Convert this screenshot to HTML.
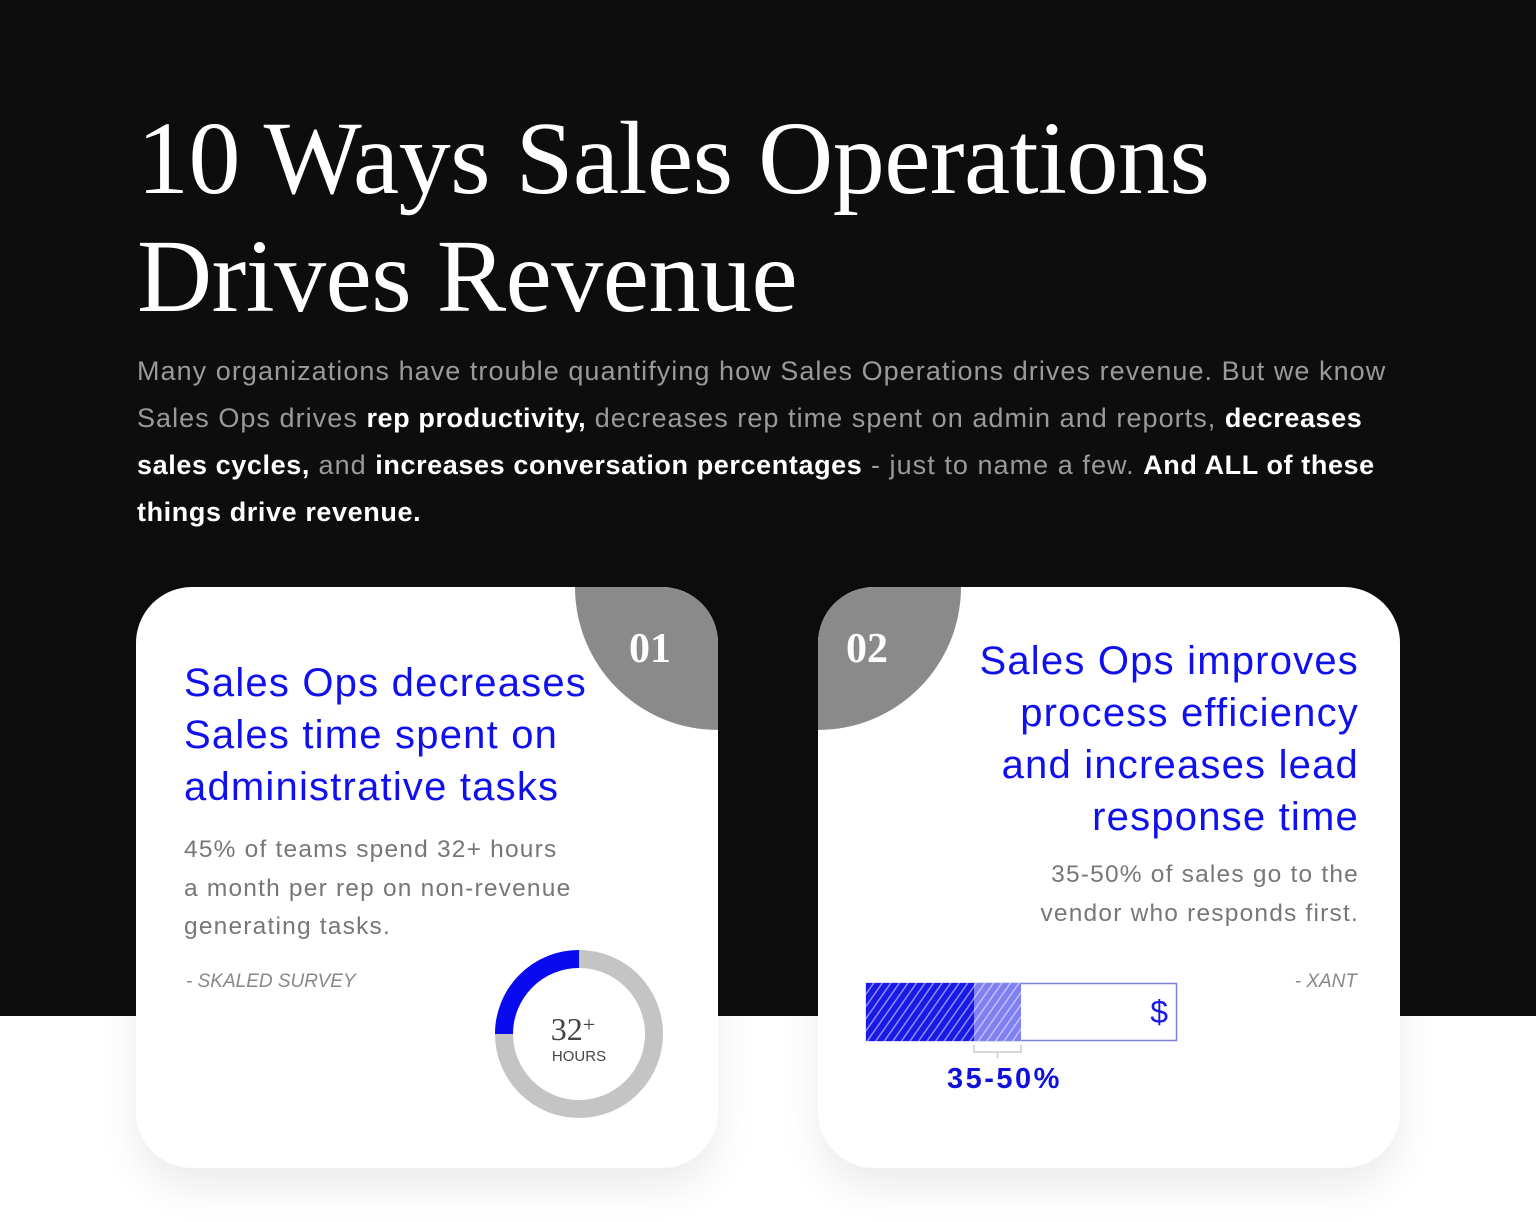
<!DOCTYPE html>
<html><head><meta charset="utf-8"><style>
body{margin:0;width:1536px;height:1222px;background:#fff;position:relative;overflow:hidden;font-family:"Liberation Sans",sans-serif}
.dark{position:absolute;left:0;top:0;width:1536px;height:1016px;background:#0d0d0d}
h1{position:absolute;left:137px;top:100px;margin:0;font-family:"Liberation Serif",serif;font-weight:normal;color:#fff;font-size:104px;line-height:118px;letter-spacing:-0.5px;white-space:nowrap}
.p{position:absolute;left:137px;top:348px;width:1350px;color:#9a9a9a;font-size:27px;line-height:47px;margin:0;letter-spacing:1.05px;white-space:nowrap}
.p b{color:#fff;letter-spacing:0.6px}
.card{position:absolute;top:587px;width:582px;height:581px;background:#fff;border-radius:56px;overflow:hidden;box-shadow:0 20px 40px rgba(0,0,0,.08)}
.q{position:absolute;width:286px;height:286px;border-radius:50%;background:#8a8a8a}
.num{position:absolute;font-family:"Liberation Serif",serif;font-weight:bold;color:#fff;font-size:42px}
.hd{position:absolute;color:#1010ee;font-size:40px;line-height:52px;letter-spacing:1.2px;white-space:nowrap}
.tx{position:absolute;color:#777;font-size:24.5px;line-height:38.5px;letter-spacing:1.2px;white-space:nowrap}
.src{position:absolute;color:#888;font-size:19px;font-style:italic}
</style></head><body>
<div class="dark"></div>
<h1>10 Ways Sales Operations<br>Drives Revenue</h1>
<p class="p">Many organizations have trouble quantifying how Sales Operations drives revenue. But we know<br>Sales Ops drives <b>rep productivity,</b> decreases rep time spent on admin and reports, <b>decreases</b><br><b>sales cycles,</b> and <b>increases conversation percentages</b> - just to name a few. <b>And ALL of these</b><br><b>things drive revenue.</b></p>

<div class="card" style="left:136px">
 <div class="q" style="left:439px;top:-143px"></div>
 <div class="num" style="left:493px;top:38px">01</div>
 <div class="hd" style="left:48px;top:70px">Sales Ops decreases<br>Sales time spent on<br>administrative tasks</div>
 <div class="tx" style="left:48px;top:244px">45% of teams spend 32+ hours<br>a month per rep on non-revenue<br>generating tasks.</div>
 <div class="src" style="left:50px;top:384px">- SKALED SURVEY</div>
 <svg style="position:absolute;left:356px;top:360px" width="174" height="174">
  <circle cx="87" cy="87" r="75" fill="none" stroke="#c4c4c4" stroke-width="18"/>
  <path d="M87 12 A75 75 0 0 0 12 87" fill="none" stroke="#0a0af0" stroke-width="18"/>
  <text x="81" y="93" text-anchor="middle" font-family="Liberation Serif,serif" font-size="32" fill="#444">32<tspan font-size="22" dy="-8">+</tspan></text>
  <text x="87" y="114" text-anchor="middle" font-family="Liberation Sans,sans-serif" font-size="15" fill="#444">HOURS</text>
 </svg>
</div>

<div class="card" style="left:818px">
 <div class="q" style="left:-143px;top:-143px"></div>
 <div class="num" style="left:28px;top:38px">02</div>
 <div class="hd" style="right:41px;top:48px;text-align:right">Sales Ops improves<br>process efficiency<br>and increases lead<br>response time</div>
 <div class="tx" style="right:41px;top:269px;text-align:right">35-50% of sales go to the<br>vendor who responds first.</div>
 <div class="src" style="right:43px;top:384px">- XANT</div>
 <svg style="position:absolute;left:47px;top:395px" width="320" height="110">
  <defs><pattern id="h" width="7" height="7" patternUnits="userSpaceOnUse" patternTransform="rotate(35)"><rect width="7" height="7" fill="#1a1ae6"/><rect width="1.5" height="7" fill="#8d8df7"/></pattern>
  <pattern id="h2" width="7" height="7" patternUnits="userSpaceOnUse" patternTransform="rotate(35)"><rect width="7" height="7" fill="#8080f0"/><rect width="1.5" height="7" fill="#c0c0fa"/></pattern></defs>
  <rect x="1.5" y="1.5" width="310" height="57" fill="#fff" stroke="#7f7fe8" stroke-width="1.5"/>
  <rect x="1" y="1" width="108" height="58" fill="url(#h)"/>
  <rect x="109" y="1" width="47" height="58" fill="url(#h2)"/>
  <text x="303" y="41" text-anchor="end" font-size="32" fill="#1a1ae6" font-family="Liberation Sans,sans-serif">$</text>
  <path d="M109 63 V70 H156 V63 M132.5 70 V76" fill="none" stroke="#ccc" stroke-width="1.5"/>
 </svg>
 <div style="position:absolute;left:129px;top:476px;color:#1010dd;font-size:29px;font-weight:bold;letter-spacing:2.5px">35-50%</div>
</div>
</body></html>
